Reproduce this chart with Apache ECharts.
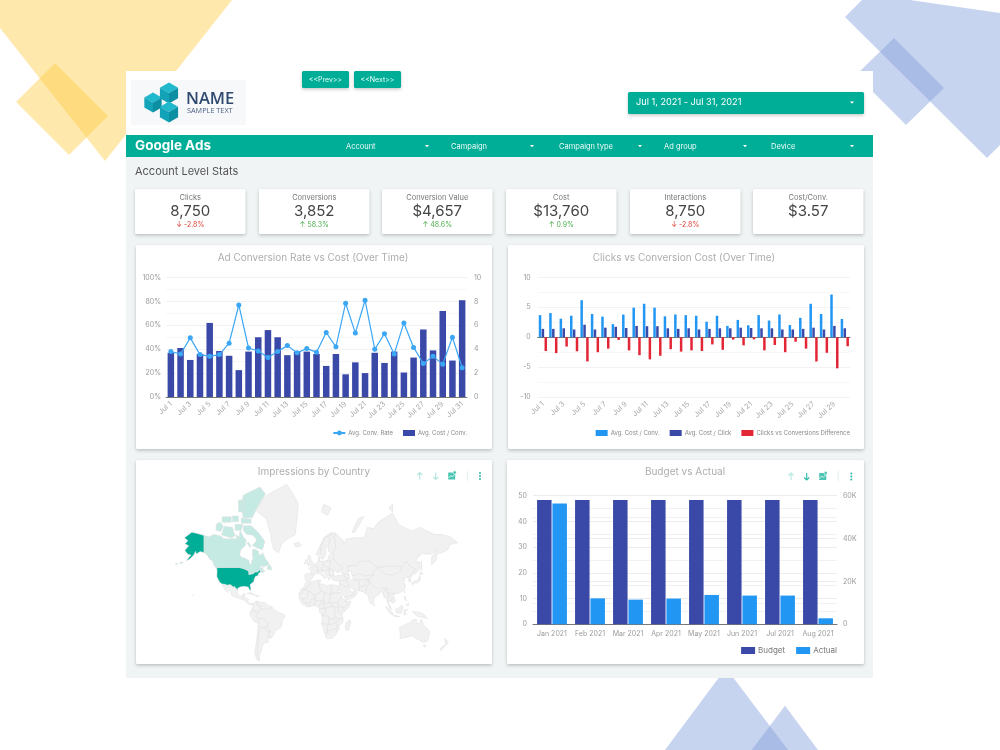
<!DOCTYPE html>
<html><head><meta charset="utf-8">
<style>html,body{margin:0;padding:0;background:#fff}#c{width:1000px;height:750px;filter:blur(.35px)}</style>
<script src="https://cdn.jsdelivr.net/npm/echarts@6/dist/echarts.min.js"></script>
</head><body><div id="c"></div>
<script>
// ---------- data ----------
const dayLabels = ['Jul 1','Jul 2','Jul 3','Jul 4','Jul 5','Jul 6','Jul 7','Jul 8','Jul 9','Jul 10','Jul 11','Jul 12','Jul 13','Jul 14','Jul 15','Jul 16','Jul 17','Jul 18','Jul 19','Jul 20','Jul 21','Jul 22','Jul 23','Jul 24','Jul 25','Jul 26','Jul 27','Jul 28','Jul 29','Jul 30','Jul 31'];
const convRate = [38,36,49.5,35.5,34,35.5,45,77,41,38.5,33,38,43,37,40.5,37.5,54,42,78.5,53.5,81,40,53,36,62,41.5,28,34,27.5,50,24.5];
const costPerConv = [3.7,4.1,3.1,3.6,6.2,3.85,3.45,2.25,3.8,5.0,5.6,5.0,3.5,3.8,3.8,3.6,2.6,3.6,1.9,2.9,2.0,3.7,2.85,3.8,2.05,3.3,5.65,3.9,7.2,3.05,8.1];
const days30 = dayLabels.slice(0,30);
const costConv30 = [3.7,4.05,3.1,3.6,6.2,3.9,3.45,2.2,3.8,4.95,5.6,4.95,3.5,3.8,3.7,3.6,2.6,3.6,1.9,2.9,2.0,3.7,2.8,3.8,2.05,3.25,5.6,3.9,7.15,3.05];
const costClick30 = [1.4,1.4,1.5,1.3,2.1,1.3,1.6,1.75,1.55,1.9,1.85,1.85,1.5,1.4,1.5,1.3,1.4,1.5,1.5,1.6,1.55,1.5,1.5,1.3,1.3,1.4,1.6,1.3,1.9,1.5];
const clickConvDiff = [-2.3,-2.65,-1.55,-2.35,-4.05,-2.5,-1.9,-0.45,-2.2,-3.0,-3.7,-3.1,-2.0,-2.4,-2.2,-2.3,-1.2,-2.1,-0.4,-1.35,-0.35,-2.2,-1.3,-2.5,-0.75,-1.9,-4.05,-2.6,-5.2,-1.5];
const months = ['Jan 2021','Feb 2021','Mar 2021','Apr 2021','May 2021','Jun 2021','Jul 2021','Aug 2021'];
const budget = [48.3,48.3,48.3,48.3,48.3,48.3,48.3,48.3];
const actual = [56400,12100,11500,12000,13700,13400,13400,2800];
const countryNames = ['United States','Canada'];
const impressions = [100,2];
const kpiLabels = ['Clicks','Conversions','Conversion Value','Cost','Interactions','Cost/Conv.'];
const kpiValues = ['8,750','3,852','$4,657','$13,760','8,750','$3.57'];
const kpiDeltas = ['↓ -2.8%','↑ 58.3%','↑ 48.6%','↑ 0.9%','↓ -2.8%',''];
const filterLabels = ['Account','Campaign','Campaign type','Ad group','Device'];

// coarse country outlines as lon,lat rings
const worldOutlines = {
'United States':['-124.7,48.4 -123,49 -95,49 -89.5,48 -84.5,46.5 -82.5,45.3 -82.5,42.5 -79,43 -76.5,43.6 -74.8,45 -71,45 -69,47.4 -67,45 -70,43.7 -70.5,41.7 -74,40.6 -75.5,38 -76,35.5 -78.5,33.8 -81,32 -80,27 -80.5,25.2 -82,26.5 -83,29 -85,29.7 -89,30.2 -89.5,29.2 -94,29.5 -97.2,27.8 -97.2,26 -99.5,27.5 -101.5,29.8 -103,29 -106.5,31.8 -111,31.3 -114.8,32.5 -117.1,32.5 -120.5,34.5 -122.5,37.5 -124.3,40.5 -124.2,43 -124,46.3',
 '-141,69.6 -141,60.3 -137,58.9 -133,55.5 -130.5,55 -132,57 -136,59 -140,60 -146,60.8 -151,59.3 -152,61 -154.5,58.5 -160,55.5 -164,54.6 -158,58.5 -162,59 -166,61.5 -161,64.3 -166,65.5 -162,67 -166.5,68.5 -157,71 -150,70.5',
 '-156,19 -154.9,19.6 -155.8,20.4','-158.2,21.3 -157.7,21.6 -157.8,21.2','-172,52.3 -168,53.2 -168.3,53.7 -172,52.9','-178,51.6 -175,51.9 -175,52.3 -178,52'],
'Canada':['-141,69.6 -135,69 -128,70 -120,69.5 -115,68 -108,68 -100,68 -95,69 -94,72 -90,69 -86,67.5 -87,64.5 -93,62 -94.5,59 -92.5,57 -88,56.5 -85,55.3 -82.5,55 -82,52.8 -80,51.3 -78.8,52.5 -79,54.5 -77,56 -78,58.8 -77.5,62.4 -73,62 -70,61 -69.5,58.8 -66,58.8 -64.5,60.3 -61.5,56.5 -57,53 -56,51.7 -60,50.2 -66,50.2 -69,48.5 -65,49 -65,47 -61,46 -63.5,44.7 -66,44 -67,45 -69,47.4 -71,45 -74.8,45 -76.5,43.6 -79,43 -82.5,42.5 -82.5,45.3 -84.5,46.5 -89.5,48 -95,49 -123,49 -124.7,48.4 -128,50.8 -130,54.3 -130.5,55 -133,55.5 -137,58.9 -141,60.3',
 '-61.5,66.5 -65,62 -72,63 -78,64.5 -73.5,66.5 -73,68 -78,69.8 -85,70 -89.5,71.5 -90,73.5 -80,73.7 -72,71.5 -67,69.5','-118,69.8 -105,68.4 -100.5,69.5 -104,73 -115,73.4','-125.5,71.8 -119,71.3 -116,73.5 -120,74.8 -125,74.2','-90,76.3 -78,76.3 -72,79 -61,82 -68,83.2 -90,81.8 -92,79.5','-96,78 -88,78 -88,81 -96,80.8','-92.5,74.5 -79.5,74.5 -79.5,75.9 -92.5,76.2','-117.5,74.8 -105.5,74.8 -105.5,76.6 -117.5,76.6','-104,75 -96,75 -96,76.8 -104,76.8','-100.5,71.8 -92.5,71.8 -90.5,74.1 -100.5,74.1','-99,70 -94.5,68.5 -96,67.5 -99,68.5','-59,47.7 -53,46.7 -53,49 -56,51.5 -58,49.5','-128,50.7 -123.5,48.5 -125,48.8','-85,65.8 -80.5,63.2 -80,64.5 -83,66.2','-64,49.9 -62,49.4 -64,49.3'],
'Greenland':['-73,78.3 -60,76 -54,70 -53,67 -50,62 -43.5,60 -40,65 -32,68 -22,70 -20,75 -18,80 -25,82 -33,83.6 -50,82.5 -62,81.5'],
'Mexico':['-117.1,32.5 -114.8,32.5 -111,31.3 -106.5,31.8 -103,29 -101.5,29.8 -99.5,27.5 -97.2,26 -97.8,22.5 -95.5,18.8 -91,18.7 -90.5,21 -87,21.5 -88,18 -91,16 -92.2,14.5 -96,15.8 -101,17.5 -105.5,20 -105.5,22.5 -109,26 -112.5,30 -114.5,31 -112,27 -109.5,23 -112,24.5 -115,28'],
'Central America':['-92.2,14.5 -91,16 -88,18 -88,16 -83.2,15 -83.7,11 -82,9 -77.5,8.7 -78,7.5 -80.5,7.3 -85,10 -87.5,13'],
'Cuba':['-85,22 -80,23 -74.2,20.2 -77.5,19.9 -78,21'],'Hispaniola':['-74.4,18.5 -72,20 -68.5,18.7 -71,18'],
'Colombia':['-77.5,8.7 -75,11 -71.5,12.3 -72,7.3 -67.5,6 -67,1.5 -70,-0.5 -70,-4.2 -75,0 -78.8,1.4 -77.5,4'],
'Venezuela':['-71.5,12.3 -68,10.7 -62,10.7 -57,6 -52,5 -51.5,4 -56,2 -60,1.5 -64,2 -67,1.5 -67.5,6 -72,7.3'],
'Ecuador':['-78.8,1.4 -75,0 -75.5,-1.5 -78.5,-4.5 -80.5,-3.4 -81,-1'],
'Peru':['-80.5,-3.4 -78.5,-4.5 -75.5,-1.5 -75,0 -70,-4.2 -73,-7 -70.5,-11 -69,-12.5 -69.5,-17.5 -70.4,-18.3 -76,-14 -81.3,-5.5'],
'Bolivia':['-69,-12.5 -70.5,-11 -65,-10 -60,-13.7 -58,-16.5 -58,-19.8 -62.5,-22 -67,-22.8 -69.5,-17.5'],
'Brazil':['-51.5,4 -50,1 -44,-2.5 -37,-5 -35,-8 -39,-13 -39,-18 -41,-22 -48,-25.5 -49,-28.5 -53.5,-34 -57.5,-30 -54,-27 -54.5,-25 -58,-22 -58,-19.8 -58,-16.5 -60,-13.7 -65,-10 -70.5,-11 -73,-7 -70,-4.2 -70,-0.5 -67,1.5 -64,2 -60,1.5 -56,2'],
'Paraguay':['-58,-19.8 -58,-22 -54.5,-25 -54,-27 -58,-27 -62.5,-22'],'Uruguay':['-57.5,-30 -53.5,-34 -58,-34.5'],
'Argentina':['-67,-22.8 -62.5,-22 -58,-27 -54,-27 -57.5,-30 -58,-34.5 -57,-38 -62,-39 -65,-42 -66,-46 -69,-51 -68.5,-54.8 -72,-51 -71.5,-45 -70.5,-37 -70,-30 -68.5,-24'],
'Chile':['-70.4,-18.3 -69.5,-17.5 -67,-22.8 -68.5,-24 -70,-30 -70.5,-37 -71.5,-45 -72,-51 -68.5,-54.8 -72,-54 -75,-49 -73,-40 -71.5,-30'],
'Morocco':['-6,35.8 -2,35 -1.5,32.5 -8.7,28 -8.7,26 -12,26 -13,21.3 -17,21.3 -14.5,26.5 -10,30 -9,33.5'],
'Algeria':['-2,35 9,37 8.5,32 9.5,30 12,24 3,19 -5,25 -8.7,26 -8.7,28 -1.5,32.5'],
'Tunisia':['9,37 11,37 10.5,33 11.5,32.5 9.5,30 8.5,32'],
'Libya':['11.5,32.5 15,32.5 19,30.5 25,32 25,20 24,19.5 16,23 12,24 9.5,30'],
'Egypt':['25,32 34,31 35,24 37,22 25,22'],
'Sudan':['24,19.5 25,22 37,22 38.5,18 36,14 33,10 24,10 22.5,13'],
'South Sudan':['24,10 33,10 35,5 31,3.5 27.5,5'],
'Ethiopia':['36,14 38.5,18 43,12 48,8 44,5 41,4 35,5 33,10'],
'Somalia':['43,12 51,12 48,4 41.5,-1.5 41,4 44,5 48,8'],
'Kenya':['35,5 41,4 41.5,-1.5 39,-4.7 34,-1 34,1'],
'Mauritania':['-17,21.3 -13,21.3 -12,26 -8.7,26 -5,25 -6,16 -12,15 -16.5,16'],
'Mali':['-5,25 3,19 4,15 0,15 -3,11 -8,10 -12,12.5 -12,15 -6,16'],
'Niger':['3,19 12,24 16,23 15,14 13,13 4,13 4,15'],
'Chad':['16,23 24,19.5 22.5,13 24,10 19,9 15,8 15,14'],
'Nigeria':['3,6.5 8.5,4.5 9,6.5 13,11 13,13 4,13 3,10'],
'Senegal':['-16.5,16 -12,15 -12,12.5 -8,10 -8,7.5 -11.5,7 -13.5,9.5 -17,14.7'],
'Ivory Coast':['-8,10 -3,10 -3,5 -7.5,4.5 -8,7.5'],
'Ghana':['-3,10 -3,11 0,15 4,15 4,13 3,10 3,6.5 -3,5'],
'Cameroon':['8.5,4.5 9.8,2.2 16,2 15,8 15,14 13,13 13,11 9,6.5'],
'Central African Republic':['15,8 19,9 24,10 27.5,5 19,3.5 16,2'],
'Gabon':['9.8,2.2 9,-1 11.5,-4.7 13,-5 14,-4.5 18,-3 18,3.5 16,2'],
'DR Congo':['18,3.5 19,3.5 27.5,5 31,3.5 29.5,-1 29.5,-4.5 30.5,-8 28.5,-12 22,-11 21,-7 17,-7 12.3,-6 13,-5 14,-4.5 18,-3'],
'Tanzania':['31,3.5 35,5 34,1 34,-1 39,-4.7 40,-10.5 34.5,-11.5 30.5,-8 29.5,-4.5 29.5,-1'],
'Angola':['12.3,-6 17,-7 21,-7 22,-11 22,-18 12,-17.2 13.5,-11'],
'Zambia':['22,-11 28.5,-12 30.5,-8 34.5,-11.5 33,-14 30,-15.7 25.5,-17.8 22,-18'],
'Mozambique':['40,-10.5 40.5,-15 35,-20 35.5,-24 32.8,-26.5 32,-22.5 33,-19 30,-15.7 33,-14 34.5,-11.5'],
'Namibia':['12,-17.2 22,-18 25,-17.8 21,-18.5 20,-22 20,-29 16.5,-28.6 14.5,-22'],
'Botswana':['21,-18.5 25.5,-17.8 30,-15.7 33,-19 32,-22.5 27,-24 25,-25.7 20,-25 20,-22'],
'South Africa':['16.5,-28.6 20,-29 20,-25 25,-25.7 27,-24 32,-22.5 32.8,-26.5 31,-30 27,-34 20,-34.8 18.3,-34'],
'Madagascar':['49.3,-12 50.5,-15.5 47.5,-25 44,-25 43.5,-21 44.5,-16'],
'Iceland':['-24,65.5 -18,66.3 -14,65 -18,63.5 -22,64'],
'United Kingdom':['-5.5,50.2 1.3,51.2 1.7,52.7 -1.5,55 -2,57.6 -5,58.6 -6,56 -3,54.5 -5,52'],
'Ireland':['-10,52 -6,52.2 -6,55 -8.5,55.2'],
'Norway':['5,59 8,58 11,59 12,64 18,69 25,70 30,69.8 31,70.5 25,71 15,68.5 10,64'],
'Sweden':['11,59 13,55.5 16,56.5 18,60 17.5,62 22,65.7 23.5,68 20,69 18,69 12,64'],
'Finland':['23.5,68 22,65.7 21,61 24,60 28,60.5 31,63 29,69 25,70 20,69'],
'Spain':['-9.3,38.8 -9,43 -2,43.5 3,42.3 0,39 -2,36.8 -6,36.2 -9,37'],
'France':['-2,43.5 -1.5,46 -4.7,48.3 1.5,50.5 2.5,51 8,49 7.5,44 3,42.3'],
'Italy':['7.5,44 7,46 13.5,46.5 12.5,44 18.5,40 16,38 15.5,40 11,42.5 9,44'],
'Germany':['2.5,51 4,52 7,53.5 8.5,55 10,54 14,54 15,51 12.5,48.5 13.5,46.5 7,46 8,49'],
'Poland':['14,54 19,54.5 23.5,54 24,50.5 22.5,49 19,49.5 15,51'],
'Austria':['15,51 19,49.5 22.5,49 22,47.5 18,46 13.5,46.5 12.5,48.5'],
'Romania':['22,47.5 26,48 28,45.5 29,45 28,41.5 26,41 22.5,41.5 22,44'],
'Balkans':['13.5,46.5 18,46 22,47.5 22,44 22.5,41.5 26,41 26,40.8 23.5,38 22,36.8 19.5,41'],
'Ukraine':['24,50.5 23.5,54 28,56 32,53 40,49.5 38,47 33,46 36,45 33,44.5 30.5,46 28,45.5 26,48 22,47.5 22.5,49'],
'Baltics':['19,54.5 21,55 21,57.5 24,59.5 28,59.5 28,56 23.5,54'],
'Denmark':['8.5,55 8,57 10.5,57.5 10,54'],
'Russia':['28,59.5 28,60.5 31,63 29,69 31,70.5 41,67 40,64.7 45,68 55,68.5 68,68.5 72,73 80,72.5 87,75 105,77.7 113,74 130,71.5 140,73 160,70 170,70 180,69 190,66 180,65 178,62.5 170,60 163,59.5 162,55 156,51 156,57 163,62 155,59 143,59.5 135,54.5 141,53 140,48 135,43.3 131,43 131,45 135,48 127,50 124,53.5 120,53 117,49.7 107,50 98,50 87,49 80,51 76,54 62,54 59,50.8 47,50 47,45.5 48,42 40,43.5 37,45 39,47 38,47 40,49.5 32,53 28,56',
 '52,71 56,71 68,76.8 60,76','142,46 143.5,49 142.5,54 142,50','100,79 105,78 105,80'],
'Svalbard':['12,78 20,77 25,79 15,80'],
'Kazakhstan':['47,45.5 47,50 59,50.8 62,54 76,54 80,51 87,49 80,45 80,42.5 70,41 66,41.5 61,44 56,41.3 52,42 51,46'],
'Uzbekistan':['52,42 56,41.3 61,44 66,41.5 70,41 80,42.5 74,37.5 66,37.5 61,36.5 54,37.5 53.5,40'],
'Mongolia':['87,49 98,50 107,50 117,49.7 116,46 111,43.5 105,41.8 96,42.8 91,45.5'],
'China':['80,42.5 80,45 87,49 91,45.5 96,42.8 105,41.8 111,43.5 116,46 117,49.7 120,53 124,53.5 127,50 135,48 131,45 131,43 128,41 124,40 121.5,39 118,39 122,37 119.5,35 122,31 120,26 114,22.3 108,21.5 102,21.5 98,24 98,28 92,28 85,28 79,31 74,37.5'],
'Korea':['128,41 130.5,42.5 128,38 129.3,35.5 126.5,34.5 126,38 124,40'],
'Japan':['131,34 136,33.6 140.5,35.5 141.5,40 140,41 139.5,38 136,36.5 132.5,35.5','140,42 141.5,45.3 145,43.3','130,33.5 132,33 131,31'],
'India':['74,37.5 79,31 81,28.5 88,26 89,27 92,28 97,28 94,24 92,22.5 89,25 88.5,21.8 85,19.5 80.3,15 80,11 77.5,8 75,12 73,19 72.5,21 70,21 68.5,23.5 71,25 70,28 74,32'],
'Pakistan':['61,25 68.5,23.5 71,25 70,28 74,32 74,37.5 71,36 69,31 62,29.5'],
'Afghanistan':['61,36.5 66,37.5 74,37.5 71,36 69,31 62,29.5 61,32'],
'Iran':['44.5,39.5 48,38.5 50,37 54,37.5 61,36.5 61,32 62,29.5 61,25 57,26 52,27.5 48.5,30 46,33 45,36'],
'Turkey':['26,40.8 26,41 28,41.5 31,41 36,42 41.5,41.5 44.5,39.5 45,36 44.5,37 36,36 30,36.3 27,37'],
'Caucasus':['41.5,41.5 40,43.5 48,42 50,40 48,38.5 44.5,39.5'],
'Iraq':['36,36 44.5,37 45,36 46,33 48.5,30 47,29 44,29.5 39,32 36,33'],
'Saudi Arabia':['35,29 36,33 39,32 44,29.5 47,29 48.5,28 50,25 52,23 55.5,22 52,19 43,17 39,21'],
'Oman':['52,23 56,25.5 59.5,22.5 55,17 52,19 55.5,22'],
'Yemen':['43,13 43,17 52,19 53,16'],
'Myanmar':['92,22.5 94,24 97,28 98,28 98,24 100,20.5 98.5,16 98.5,11 97.5,16.5 94.5,16'],
'Thailand':['98.5,11 98.5,16 100,20.5 102,18 105,15 102.5,12 100,13.5 100,9 102,6 100,6.5'],
'Vietnam':['102,21.5 108,21.5 106,18.5 109,13 107,10.5 105,9 102.5,12 105,15 102,18 100,20.5 98,24'],
'Malaysia':['100,6.5 102,6 104,1.5 101,3'],
'Indonesia':['95.5,5.5 98,4 104,-2 106,-6 102,-4.5','105.5,-6.5 110,-6.5 114.5,-8 108,-7.8','109,1.5 113,3 117,7 119,5 117.5,1 116,-4 110,-3','119.5,-5.5 120,1 125,1.5 121,-1 123,-5'],
'New Guinea':['131,-1 141,-2.5 147,-6 150.5,-10.5 143,-8.5 138,-8 133,-4'],
'Philippines':['120.5,18.5 122,18 122,14 124,12.5 120.5,14','122,7 126,9.5 126,6.3'],
'Taiwan':['121,25 122,24.5 120.7,22 120,23.5'],
'Sri Lanka':['80,9.5 82,7.5 80.7,6 79.8,7.5'],
'Australia':['114,-22 122,-18 129,-15 132,-11.5 136.5,-12 135.5,-15 140,-17.5 142.5,-11 146,-19 153,-26 153,-31 150,-37.5 144,-38.5 138,-35 135,-34.5 131,-31.5 124,-33 115,-34.5 115,-30','145,-41 148,-41 147,-43.5'],
'New Zealand':['172.7,-34.5 178,-38 175,-41.5 174,-39','172,-41 174,-42 168,-46.5 166.5,-45.5']
};

// ---------- palette ----------
const TEAL='#00ad96', INDIGO='#3a49a8', SKY='#2196f3', LINE='#3ba7f5', RED='#e32636';
const FONT='Inter, "Open Sans", sans-serif';
const GREY='#9a9a9a';

// ---------- world map through the library's own geo ----------
const parseRing = s => { const r = s.split(' ').map(p => p.split(',').map(Number)); r.push(r[0]); return r; };
echarts.registerMap('world', {type:'FeatureCollection', features:Object.keys(worldOutlines).map(n => ({
  type:'Feature', properties:{name:n},
  geometry:{type:'MultiPolygon', coordinates:worldOutlines[n].map(s => [parseRing(s)])}
}))});
const mercator = {
  project: p => [p[0]*Math.PI/180, -Math.log(Math.tan(Math.PI/4 + Math.min(p[1],85)*Math.PI/360))],
  unproject: p => [p[0]*180/Math.PI, (2*Math.atan(Math.exp(-p[1]))-Math.PI/2)*180/Math.PI]
};

// ---------- dashboard furniture ----------
const g = [];
const poly = (pts, fill, extra) => g.push(Object.assign({type:'polygon', silent:true, shape:{points:pts}, style:{fill}}, extra||{}));
const box = (x,y,w,h,fill,sh) => g.push({type:'rect', silent:true, shape:{x,y,width:w,height:h,r:sh?1.5:0}, style:Object.assign({fill}, sh?{shadowBlur:3.5,shadowOffsetY:1.5,shadowColor:'rgba(0,0,0,.22)'}:{})});
const txt = (x,y,t,size,fill,align,weight,fam) => g.push({type:'text', silent:true, x, y, style:{text:t, fontSize:size, fontFamily:fam||FONT, fontWeight:weight||400, fill, align:align||'left', verticalAlign:'middle', textAlign:align||'left', textVerticalAlign:'middle'}});
const caret = (x,y,c) => poly([[x-2,y-1],[x+2,y-1],[x,y+1.3]], c||'#fff');
const stroke = (pts,c,w) => g.push({type:'polyline', silent:true, shape:{points:pts}, style:{stroke:c, lineWidth:w||1.1, fill:null}});

const YEL='rgba(253,205,70,.45)', BLU='rgba(130,160,220,.45)';
poly([[0,0],[232,0],[105,161],[0,28]],YEL);
poly([[16,102],[55,63],[108,116],[69,155]],YEL);
poly([[845,17],[862,0],[910,0],[1000,13],[1000,145],[987,158]],BLU);
poly([[894,38],[944,88],[906,125],[856,75]],BLU);
poly([[726,668],[665,750],[788,750]],BLU);
poly([[785,705.7],[751.7,750],[818,750]],BLU);

box(126,71,747,64,'#fff');
box(126,157,747,521,'#f0f4f4');
box(126,135,747,22,TEAL);

// logo
box(131,80,115,45,'#f7f8fa');
const cube=(cx,cy,r)=>{const h=r*.866,q=r*.5;
  poly([[cx,cy-r],[cx+h,cy-q],[cx,cy],[cx-h,cy-q]],'#1fb8cc');
  poly([[cx-h,cy-q],[cx,cy],[cx,cy+r],[cx-h,cy+q]],'#12a3b8');
  poly([[cx+h,cy-q],[cx,cy],[cx,cy+r],[cx+h,cy+q]],'#0c8ea3');};
cube(153,102.5,10); cube(169,93,10.5); cube(169,112,10.5);
txt(186,99.5,'NAME',16.5,'#2f4a70','left',600,'"Open Sans"');
txt(187,110.5,'SAMPLE TEXT',7.3,'#4a5f80','left',400,'"Liberation Sans Narrow","Open Sans"');

// buttons
[[302,'<<Prev>>'],[354,'<<Next>>']].forEach(b=>{box(b[0],71,47,17,TEAL,true);txt(b[0]+23.5,79.5,b[1],7,'#e8fffb','center');});
box(628,92,236,22,TEAL,true);
txt(636,102.5,'Jul 1, 2021 - Jul 31, 2021',9.2,'#fff');
caret(852,102.5);

// header
txt(135,146,'Google Ads',13.5,'#fff','left',700);
[346,451,559,664,771].forEach((x,i)=>txt(x,146.5,filterLabels[i],7.5,'#eefcf9'));
[427,532,640,745,852].forEach(x=>caret(x,146));
txt(135,171.5,'Account Level Stats',11,'#555');

// KPI tiles
[135,259,382,506,630,753].forEach((x,i)=>{
  const w=110.5, cx=x+w/2;
  box(x,189,w,45,'#fff',true);
  txt(cx,198,kpiLabels[i],7.5,'#777','center');
  txt(cx,211,kpiValues[i],15,'#444','center');
  if(kpiDeltas[i]) txt(cx,224.5,kpiDeltas[i],7,kpiDeltas[i][0]==='↓'?'#e3443c':'#4caf50','center');
});

// chart cards
box(136,245,356,204,'#fff',true);
box(508,245,356,204,'#fff',true);
box(136,460,356,204,'#fff',true);
box(507,460,357,204,'#fff',true);

// toolbar icons
const arrow=(x,y,dir,c)=>{const s=dir; stroke([[x,y-3.5*s],[x,y+3.5*s]],c); stroke([[x-2.5,y+1*s],[x,y+3.5*s],[x+2.5,y+1*s]],c);};
const exportIcon=(x,y,c)=>{box(x-3.5,y-3.5,7,7,c); g.push({type:'circle',silent:true,shape:{cx:x+3,cy:y-3.5,r:1.7},style:{fill:c,stroke:'#fff',lineWidth:.6}}); stroke([[x-3,y+2],[x-.8,y-.5],[x+.5,y+1],[x+3,y-1.5]],'#fff',.7);};
const dots=(x,y,c)=>[-3,0,3].forEach(d=>g.push({type:'circle',silent:true,shape:{cx:x,cy:y+d,r:1},style:{fill:c}}));
const PALE='#b4e5de';
arrow(419.7,476,-1,PALE); arrow(435.7,476,1,PALE); exportIcon(451.7,476,'#4cc4b3'); stroke([[467.3,471],[467.3,481]],'#e0f2f0'); dots(480,476,'#2bb8a5');
arrow(791,476.5,-1,PALE); arrow(806.7,476.5,1,'#2bb8a5'); exportIcon(822.7,476.5,'#4cc4b3'); stroke([[838,471],[838,481]],'#e0f2f0'); dots(851.3,476.5,'#2bb8a5');

// ---------- chart option ----------
const axisTxt={color:GREY,fontSize:7,fontFamily:FONT};
const gridLine={show:true,lineStyle:{color:'#f2f2f2',width:1}};
const minorLine={show:true,lineStyle:{color:'#f7f7f7',width:1}};
const baseLine={show:true,onZero:true,lineStyle:{color:'#777',width:1}};
const title=(text,x,y)=>({text,left:x,top:y-4.5,padding:0,textAlign:'center',textStyle:{color:'#adadad',fontSize:10,fontWeight:400,fontFamily:FONT}});
const dayAxis=(gridIndex,data)=>({type:'category',gridIndex,data,axisLine:baseLine,axisTick:{show:false},
  axisLabel:Object.assign({},axisTxt,{interval:1,rotate:42,margin:6,color:'#aaa',fontSize:7.2}),splitLine:{show:false}});
const valAxis=(gridIndex,o)=>Object.assign({type:'value',gridIndex,axisLine:{show:false},axisTick:{show:false},axisLabel:axisTxt,splitLine:{show:false}},o);

const option={
  animation:false,
  backgroundColor:'#fff',
  graphic:g,
  title:[title('Ad Conversion Rate vs Cost (Over Time)',313,257),title('Clicks vs Conversion Cost (Over Time)',684,257),title('Impressions by Country',314,471),title('Budget vs Actual',685,471)],
  grid:[
    {left:166,top:277.5,width:301,height:119.5},
    {left:537.7,top:277.5,width:312.3,height:119.5},
    {left:533,top:495.7,width:304,height:128.6}
  ],
  xAxis:[dayAxis(0,dayLabels),dayAxis(1,days30),
    {type:'category',gridIndex:2,data:months,axisLine:baseLine,axisTick:{show:false},axisLabel:Object.assign({},axisTxt,{margin:6,interval:0}),splitLine:{show:false}}],
  yAxis:[
    valAxis(0,{min:0,max:100,interval:20,minorTick:{show:false,splitNumber:2},axisLabel:Object.assign({},axisTxt,{formatter:'{value}%',margin:5}),splitLine:gridLine,minorSplitLine:minorLine}),
    valAxis(0,{min:0,max:10,interval:2,position:'right',axisLabel:Object.assign({},axisTxt,{margin:7})}),
    valAxis(1,{min:-10,max:10,interval:5,minorTick:{show:false,splitNumber:2},axisLabel:Object.assign({},axisTxt,{margin:7}),splitLine:gridLine,minorSplitLine:minorLine}),
    valAxis(2,{min:0,max:50,interval:10,minorTick:{show:false,splitNumber:2},axisLabel:Object.assign({},axisTxt,{margin:6}),splitLine:{show:true,lineStyle:{color:'#ececec'}},minorSplitLine:{show:true,lineStyle:{color:'#f1f1f1'}}}),
    valAxis(2,{min:0,max:60000,interval:20000,position:'right',axisLabel:Object.assign({},axisTxt,{margin:6,formatter:v=>v?(v/1000)+'K':'0'}),splitLine:{show:true,lineStyle:{color:'#ececec'}},minorTick:{show:false,splitNumber:2},minorSplitLine:{show:true,lineStyle:{color:'#f1f1f1'}}})
  ],
  geo:{map:'world',projection:mercator,left:175.7,top:484.3,width:282,height:176.4,silent:true,roam:false,
    itemStyle:{areaColor:'#f1f1f1',borderColor:'#dedede',borderWidth:.5},
    emphasis:{disabled:true},select:{disabled:true}},
  visualMap:{show:false,seriesIndex:6,min:0,max:100,inRange:{color:['#c9ebe6','#00ad96']}},
  legend:[
    {data:['Avg. Conv. Rate',{name:'Avg. Cost / Conv.',icon:'rect'}],right:533,top:430,itemWidth:12,itemHeight:6,itemGap:10,selectedMode:false,padding:0,textStyle:{color:'#888',fontSize:6,fontFamily:FONT,padding:[0,0,0,-2]}},
    {data:[{name:'Avg. Cost / Conv.',icon:'rect',itemStyle:{color:SKY}},{name:'Avg. Cost / Click',icon:'rect'},{name:'Clicks vs Conversions Difference',icon:'rect'}],right:150,top:430,itemWidth:12,itemHeight:6,itemGap:10,selectedMode:false,padding:0,textStyle:{color:'#888',fontSize:6,fontFamily:FONT,padding:[0,0,0,-2]}},
    {data:[{name:'Budget',icon:'rect'},{name:'Actual',icon:'rect'}],right:163,top:646.5,itemWidth:14,itemHeight:7,itemGap:11,selectedMode:false,padding:0,textStyle:{color:'#777',fontSize:8,fontFamily:FONT,padding:[0,0,0,-2]}}
  ],
  series:[
    {name:'Avg. Cost / Conv.',type:'bar',xAxisIndex:0,yAxisIndex:1,data:costPerConv,barWidth:6.5,itemStyle:{color:INDIGO},z:2},
    {name:'Avg. Conv. Rate',type:'line',xAxisIndex:0,yAxisIndex:0,data:convRate,symbol:'circle',symbolSize:5,lineStyle:{color:LINE,width:1.2},itemStyle:{color:LINE},z:3},
    {name:'Avg. Cost / Conv.',type:'bar',xAxisIndex:1,yAxisIndex:2,data:costConv30,barWidth:2.5,barGap:'15%',itemStyle:{color:SKY}},
    {name:'Avg. Cost / Click',type:'bar',xAxisIndex:1,yAxisIndex:2,data:costClick30,barWidth:2.5,barGap:'15%',itemStyle:{color:INDIGO}},
    {name:'Clicks vs Conversions Difference',type:'bar',xAxisIndex:1,yAxisIndex:2,data:clickConvDiff,barWidth:2.5,barGap:'15%',itemStyle:{color:RED}},
    {name:'Budget',type:'bar',xAxisIndex:2,yAxisIndex:3,data:budget,barWidth:14.5,barGap:'6%',itemStyle:{color:INDIGO}},
    {name:'Impressions',type:'map',geoIndex:0,data:countryNames.map((n,i)=>({name:n,value:impressions[i]})),silent:true,label:{show:false}},
    {name:'Actual',type:'bar',xAxisIndex:2,yAxisIndex:4,data:actual,barWidth:14.5,barGap:'6%',itemStyle:{color:SKY}}
  ]
};
echarts.init(document.getElementById('c'),null,{renderer:'canvas'}).setOption(option);
</script></body></html>
